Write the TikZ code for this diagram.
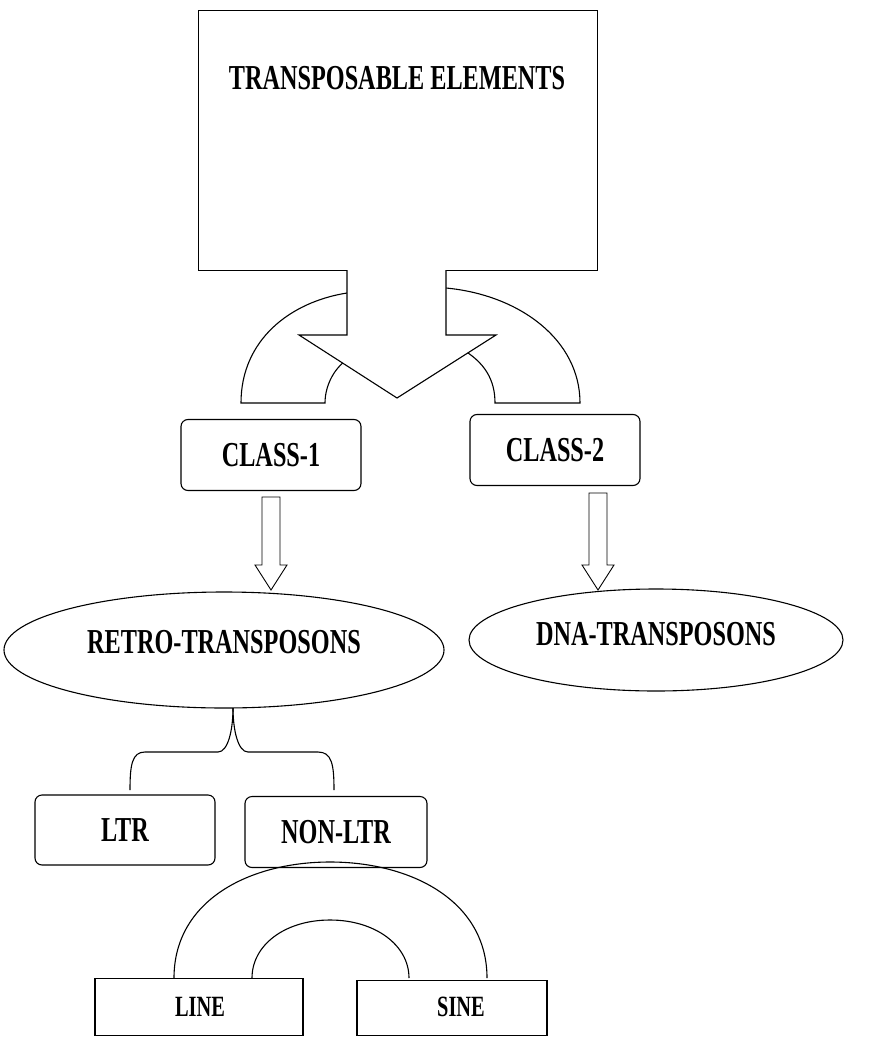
\documentclass[tikz,border=0pt]{standalone}
\usepackage{fontspec}
\setmainfont{Liberation Serif}
\usetikzlibrary{shapes.geometric}
\newcommand{\tall}[1]{\scalebox{0.97}[1.4]{#1}}
\begin{document}
\begin{tikzpicture}[x=1pt,y=-1pt,line width=1.1pt,
  lbl/.style={font=\bfseries\fontsize{25}{28}\selectfont},
  rbox/.style={draw,rounded corners=7pt,inner sep=0pt},
  sbox/.style={draw,inner sep=0pt}]
\useasboundingbox (0,0) rectangle (878,1054);
% arcs behind the arrow
\draw (347,293) .. controls (290,302) and (241,340) .. (241,403) -- (325,403) .. controls (325,385) and (335,366) .. (350,358);
\draw (446,288) .. controls (520,295) and (580,340) .. (580,403) -- (495,403) .. controls (495,380) and (485,362) .. (460,348);
% callout
\node[sbox,minimum width=399,minimum height=260,anchor=north west] (te) at (198,10) {};
\node[lbl] at (397,78) {\tall{TRANSPOSABLE ELEMENTS}};
\filldraw[fill=white] (347,270) -- (347,335) -- (299,335) -- (397,398) -- (496,335) -- (446,335) -- (446,270);
\draw[white,line width=1.5pt] (348.5,270) -- (444.5,270);
% classes
\node[rbox,minimum width=180,minimum height=71] (c1) at (271,455) {};
\node[lbl] at (c1) {\tall{CLASS-1}};
\node[rbox,minimum width=170,minimum height=71] (c2) at (555,450) {};
\node[lbl] at (c2) {\tall{CLASS-2}};
% open arrows
\foreach \cx/\ya/\yb in {271/497/590, 598/493/590}{
  \draw[line width=0.9pt] (\cx-9,\ya) -- (\cx-9,\yb-25) -- (\cx-16,\yb-25) -- (\cx,\yb) -- (\cx+16,\yb-25) -- (\cx+9,\yb-25) -- (\cx+9,\ya) -- cycle;}
% ellipses
\node[draw,ellipse,minimum width=440,minimum height=116,inner sep=0pt] (rt) at (224,650) {};
\node[lbl] at (224,642) {\tall{RETRO-TRANSPOSONS}};
\node[draw,ellipse,minimum width=374,minimum height=102,inner sep=0pt] (dna) at (656,640) {};
\node[lbl] at (656,634) {\tall{DNA-TRANSPOSONS}};
% brace
\draw (233,708) .. controls (233,730) and (228,752) .. (218,752) -- (145,752) .. controls (132,752) and (130,765) .. (130,790);
\draw (233,708) .. controls (233,730) and (238,752) .. (248,752) -- (318,752) .. controls (332,752) and (334,765) .. (334,790);
% LTR boxes
\node[rbox,minimum width=180,minimum height=70] (ltr) at (125,830) {};
\node[lbl] at (ltr) {\tall{LTR}};
\node[rbox,minimum width=182,minimum height=71] (nltr) at (336,832) {};
\node[lbl] at (nltr) {\tall{NON-LTR}};
% lower arch
\draw (174,978) .. controls (174,900) and (250,862) .. (330,862) .. controls (410,862) and (487,900) .. (487,978);
\draw (252,978) .. controls (252,945) and (285,920) .. (330,920) .. controls (375,920) and (409,945) .. (409,978);
\node[sbox,fill=white,minimum width=208,minimum height=57] (line) at (199,1007) {};
\node[lbl,font=\bfseries\fontsize{21}{24}\selectfont] at (200,1007) {\tall{LINE}};
\node[sbox,fill=white,minimum width=190,minimum height=55] (sine) at (452,1008) {};
\node[lbl,font=\bfseries\fontsize{21}{24}\selectfont] at (461,1007) {\tall{SINE}};
\end{tikzpicture}
\end{document}
